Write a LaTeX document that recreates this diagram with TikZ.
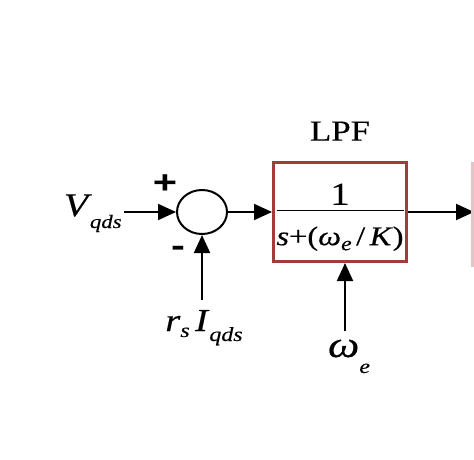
\documentclass[tikz,border=0pt]{standalone}
\usepackage{fontspec}
\setmainfont{Liberation Serif}[FakeStretch=1.2, FakeBold=0.4]
\newfontfamily\signfont{Liberation Sans}[FakeStretch=1.3]
\usepackage{tikz}
\usetikzlibrary{shapes.geometric,arrows.meta,positioning}
\definecolor{boxred}{RGB}{160,60,58}
\definecolor{nextpink}{RGB}{228,196,196}
\newcommand{\bigtxt}{\fontsize{16}{18}\selectfont}
\newcommand{\subtxt}{\fontsize{10}{11}\selectfont}

\begin{document}
\begin{tikzpicture}[
    x=0.5pt, y=-0.5pt,
    lbl/.style={inner sep=1pt, font=\bigtxt},
    sumnode/.style={ellipse, draw, line width=1pt, minimum width=25pt, minimum height=22pt, inner sep=0pt},
    lpfbox/.style={rectangle, draw=boxred, line width=1.5pt, minimum width=66.5pt, minimum height=49.5pt, inner sep=0pt, align=center},
    sign/.style={inner sep=0pt, font=\signfont\bfseries\fontsize{16}{16}\selectfont},
    arr/.style={-{Triangle[length=9pt, width=8pt]}, line width=1pt}
]
    \useasboundingbox (0,0) rectangle (474,459);

    \node [sumnode] (sum) at (202,212) {};
    \node [lpfbox] (lpf) at (340,212) {\arrayrulewidth=0.7pt\def\arraystretch{0}%
        \begin{tabular}{@{}c@{}}
          \fontsize{16}{17}\selectfont\rule[-2.5pt]{0pt}{19.5pt}1\\\hline
          \fontsize{13.5}{15}\selectfont\rule[-4pt]{0pt}{21pt}\textit{s}+(\textit{ω}\raisebox{-2.5pt}{\fontsize{10}{10}\selectfont\textit{e}}\,/\,\textit{K})
        \end{tabular}};
    \node [inner sep=0pt, font=\fontsize{14.5}{16}\selectfont, above=10pt of lpf] (lpftitle) {LPF};

    \node [lbl, anchor=base east] (vin) at (124,216)
        {{\fontsize{16.5}{18}\selectfont\textit{V}}\kern-1pt\raisebox{-6pt}{\fontsize{9.5}{10}\selectfont\textit{qds}}};
    \node [lbl, anchor=base] (rsi) at (204,331)
        {\textit{r}\raisebox{-3pt}{\subtxt\textit{s}}\,\textit{I}\raisebox{-5pt}{\subtxt\textit{qds}}};
    \node [lbl, anchor=base] (we) at (349,357)
        {{\fontsize{18.5}{20}\selectfont\textit{ω}}\raisebox{-8pt}{\subtxt\textit{e}}};
    \node [sign] (plus) at (165,184) {+};
    \node [sign] (minus) at (178,251) {-};
    \coordinate (out) at (474,212);

    \draw [arr] (vin.east |- sum.west) -- (sum.west);
    \draw [arr] (sum.east) -- (lpf.west);
    \draw [arr] (lpf.east) -- (out);
    \draw [arr] ([yshift=4pt]rsi.north -| sum.south) -- (sum.south);
    \draw [arr] ([yshift=3pt]we.north -| 345,0) -- (lpf.south -| 345,0);

    % edge of the next block, cut off by the frame
    \draw [nextpink, line width=1.5pt] (472.5,162) -- (472.5,267);
\end{tikzpicture}
\end{document}
